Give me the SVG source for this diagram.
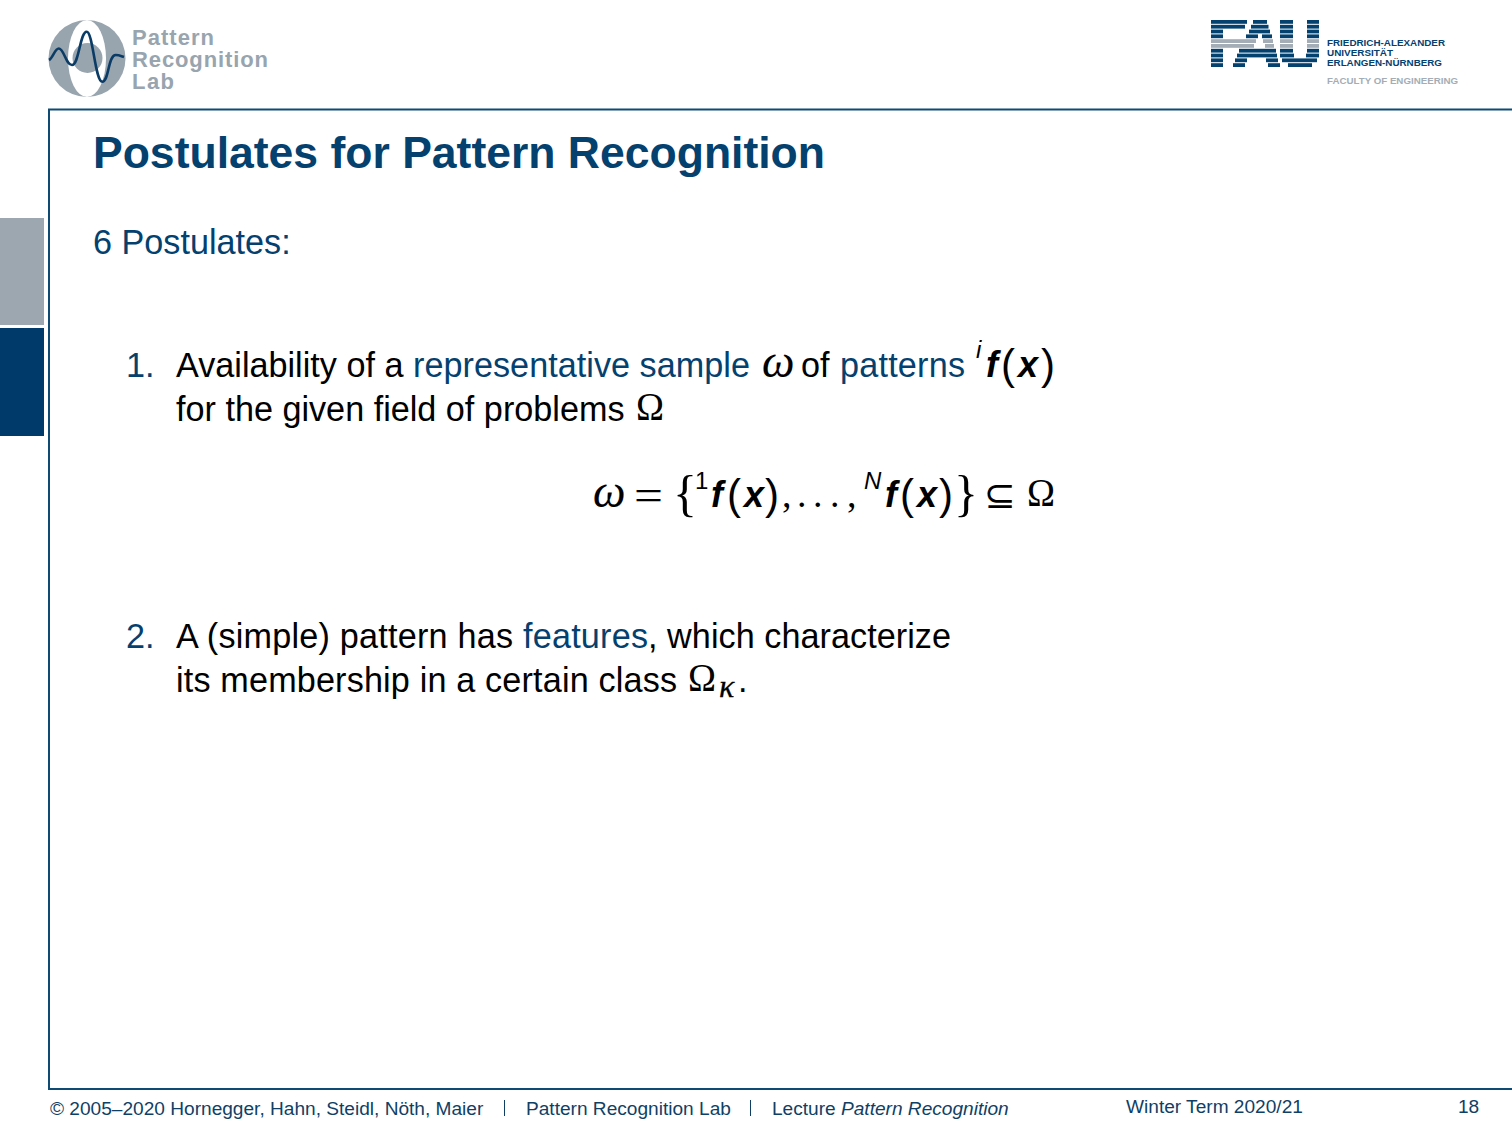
<svg xmlns="http://www.w3.org/2000/svg" width="1512" height="1134" viewBox="0 0 1512 1134">
<style>
text{font-family:"Liberation Sans",Arial,sans-serif;white-space:pre}
.body{font-size:34.2px;fill:#000}
.blue{fill:#04416f}
.title{font-size:44px;font-weight:bold;fill:#04416f}
.foot{font-size:19.1px;fill:#103f66}
.omega{font-family:"Liberation Serif",serif;font-style:italic;font-size:46px;fill:#000;stroke:#000;stroke-width:.15}
.Omega{font-family:"Liberation Serif",serif;font-size:41px;fill:#000}
.vec{font-weight:bold;font-style:italic;font-size:36px;fill:#000}
.par{font-size:42px;fill:#000}
.sup{font-size:24px;fill:#000}
.eq{font-family:"Liberation Serif",serif;font-size:38px;fill:#000}
.brace{font-family:"Liberation Serif",serif;font-size:50px;fill:#000}
.lg{font-weight:bold;font-size:22px;fill:#98a4ae}
.fau{font-weight:bold;font-size:9px;fill:#04416f}
.n{fill:#04416f}
.g{fill:#a4adb5}
</style>
<rect width="1512" height="1134" fill="#fff"/>
<g id="frame" fill="none" stroke="#0f4a75" stroke-width="2">
<path d="M1512 109.500H49V1089H1512"/>
</g>
<g id="sidebar">
<rect x="0" y="218" width="44" height="107" fill="#9ca7af"/>
<rect x="0" y="328" width="44" height="108" fill="#003a6b"/>
</g>
<g id="lab-logo">
<circle cx="87" cy="58.500" r="38.500" fill="#98a4ae"/>
<ellipse cx="87" cy="58.500" rx="19" ry="38.500" fill="#fff"/>
<circle cx="87.500" cy="58" r="15" fill="#98a4ae"/>
<path d="M49 60C53 58 55 48 59 48.500C64 49 66 65 72 65C79 65 80 31.700 86.700 31.700C93 31.700 95 81.700 102.300 81.700C109 81.700 108 55 115.700 55C119 55 121 56 124 57" fill="none" stroke="#0b3c66" stroke-width="2.600"/>
<text class="lg" x="132" y="44.500" textLength="82" lengthAdjust="spacing">Pattern</text>
<text class="lg" x="132" y="66.500" textLength="136" lengthAdjust="spacing">Recognition</text>
<text class="lg" x="132" y="89" textLength="42" lengthAdjust="spacing">Lab</text>
</g>
<g id="fau-logo">
<g class="n">
<rect x="1211" y="20" width="36" height="3.800"/><rect x="1253" y="20" width="14" height="3.800"/><rect x="1280" y="20" width="13" height="3.800"/><rect x="1307" y="20" width="12" height="3.800"/>
<rect x="1211" y="24.800" width="34" height="3.800"/><rect x="1251" y="24.800" width="17.500" height="3.800"/><rect x="1280" y="24.800" width="13" height="3.800"/><rect x="1307" y="24.800" width="12" height="3.800"/>
<rect x="1211" y="29.600" width="12" height="3.800"/><rect x="1249" y="29.600" width="21" height="3.800"/><rect x="1280" y="29.600" width="13" height="3.800"/><rect x="1307" y="29.600" width="12" height="3.800"/>
<rect x="1211" y="34.400" width="12" height="3.800"/><rect x="1246" y="34.400" width="12" height="3.800"/><rect x="1262" y="34.400" width="10" height="3.800"/><rect x="1280" y="34.400" width="13" height="3.800"/><rect x="1307" y="34.400" width="12" height="3.800"/>
<rect x="1211" y="48.800" width="12" height="3.800"/><rect x="1239" y="48.800" width="37" height="3.800"/><rect x="1280" y="48.800" width="13" height="3.800"/><rect x="1307" y="48.800" width="12" height="3.800"/>
<rect x="1211" y="53.600" width="12" height="3.800"/><rect x="1237" y="53.600" width="40" height="3.800"/><rect x="1280" y="53.600" width="14" height="3.800"/><rect x="1306" y="53.600" width="13" height="3.800"/>
<rect x="1211" y="58.400" width="12" height="3.800"/><rect x="1235" y="58.400" width="12" height="3.800"/><rect x="1266" y="58.400" width="12" height="3.800"/><rect x="1282" y="58.400" width="35" height="3.800"/>
<rect x="1211" y="63.200" width="12" height="3.800"/><rect x="1233" y="63.200" width="12" height="3.800"/><rect x="1268" y="63.200" width="12" height="3.800"/><rect x="1288" y="63.200" width="24" height="3.800"/>
</g>
<g class="g">
<rect x="1211" y="39.200" width="45" height="3.800"/><rect x="1263" y="39.200" width="10" height="3.800"/><rect x="1280" y="39.200" width="13" height="3.800"/><rect x="1307" y="39.200" width="12" height="3.800"/>
<rect x="1211" y="44" width="43" height="3.800"/><rect x="1265" y="44" width="9" height="3.800"/><rect x="1280" y="44" width="13" height="3.800"/><rect x="1307" y="44" width="12" height="3.800"/>
</g>
<text class="fau" x="1327" y="46" textLength="118" lengthAdjust="spacingAndGlyphs">FRIEDRICH-ALEXANDER</text>
<text class="fau" x="1327" y="56" textLength="66" lengthAdjust="spacingAndGlyphs">UNIVERSITÄT</text>
<text class="fau" x="1327" y="66" textLength="115" lengthAdjust="spacingAndGlyphs">ERLANGEN-NÜRNBERG</text>
<text class="fau" x="1327" y="84" textLength="131" lengthAdjust="spacingAndGlyphs" style="fill:#a4adb5">FACULTY OF ENGINEERING</text>
</g>
<g id="title"><text class="title" x="93" y="168" textLength="732" lengthAdjust="spacingAndGlyphs">Postulates for Pattern Recognition</text></g>
<g id="intro"><text class="body blue" x="93" y="254">6 Postulates:</text></g>
<g id="item1">
<text class="body blue" x="126" y="377">1.</text>
<text class="body" x="176" y="377">Availability of a</text>
<text class="body blue" x="413" y="377" textLength="337" lengthAdjust="spacing">representative sample</text>
<text class="omega" x="762" y="377">ω</text>
<text class="body" x="801" y="377">of</text>
<text class="body blue" x="840" y="377" textLength="125" lengthAdjust="spacing">patterns</text>
<text class="sup" x="976" y="358" style="font-style:italic">i</text>
<text class="vec" x="986" y="377">f</text>
<text class="par" x="1001" y="379">(</text>
<text class="vec" x="1018" y="377">x</text>
<text class="par" x="1041" y="379">)</text>
<text class="body" x="176" y="421">for the given field of problems</text>
<text class="Omega" x="636" y="420" textLength="28" lengthAdjust="spacingAndGlyphs">Ω</text>
</g>
<g id="equation">
<text class="omega" x="593" y="507">ω</text>
<text class="eq" x="634" y="510" textLength="29" lengthAdjust="spacingAndGlyphs" style="font-size:44px">=</text>
<text class="brace" x="673" y="510">{</text>
<text class="sup" x="695" y="489">1</text>
<text class="vec" x="711" y="507">f</text>
<text class="par" x="727" y="509">(</text>
<text class="vec" x="744" y="507">x</text>
<text class="par" x="765" y="509">)</text>
<text class="eq" x="782" y="507">,</text>
<text class="eq" x="797" y="507">.</text>
<text class="eq" x="813" y="507">.</text>
<text class="eq" x="830" y="507">.</text>
<text class="eq" x="847" y="507">,</text>
<text class="sup" x="864" y="489" style="font-style:italic">N</text>
<text class="vec" x="885" y="507">f</text>
<text class="par" x="900" y="509">(</text>
<text class="vec" x="917" y="507">x</text>
<text class="par" x="939" y="509">)</text>
<text class="brace" x="954" y="510">}</text>
<text x="984" y="508" style="font-family:'DejaVu Sans',sans-serif;font-size:38px;fill:#000">⊆</text>
<text class="Omega" x="1027" y="506" textLength="28" lengthAdjust="spacingAndGlyphs">Ω</text>
</g>
<g id="item2">
<text class="body blue" x="126" y="648">2.</text>
<text class="body" x="176" y="648" textLength="337" lengthAdjust="spacing">A (simple) pattern has</text>
<text class="body blue" x="523" y="648" textLength="125" lengthAdjust="spacing">features</text>
<text class="body" x="648" y="648" textLength="303" lengthAdjust="spacing">, which characterize</text>
<text class="body" x="176" y="692" textLength="501" lengthAdjust="spacing">its membership in a certain class</text>
<text class="Omega" x="688" y="691" textLength="28" lengthAdjust="spacingAndGlyphs">Ω</text>
<text x="719" y="697" style="font-family:'Liberation Serif',serif;font-style:italic;font-size:32px;fill:#000;stroke:#000;stroke-width:.3">κ</text>
<text class="body" x="738" y="692">.</text>
</g>
<g id="footer">
<text class="foot" x="50" y="1115">© 2005–2020 Hornegger, Hahn, Steidl, Nöth, Maier</text>
<path d="M504.500 1100V1116M750.500 1100V1116" stroke="#103f66" stroke-width="1" fill="none"/>
<text class="foot" x="526" y="1115">Pattern Recognition Lab</text>
<text class="foot" x="772" y="1115">Lecture <tspan font-style="italic">Pattern Recognition</tspan></text>
<text class="foot" x="1126" y="1113">Winter Term 2020/21</text>
<text class="foot" x="1458" y="1113">18</text>
</g>
</svg>
